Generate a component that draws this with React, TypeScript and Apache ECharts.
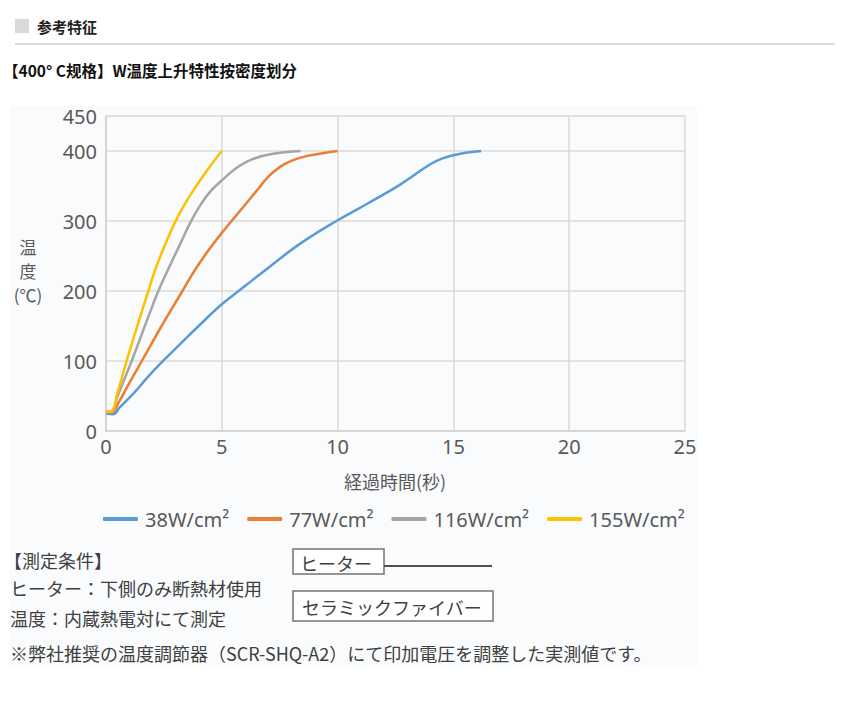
import React, { useEffect, useRef } from 'react';
import * as echarts from 'echarts';

// 凡例名と色
const seriesNames = ['38W/cm²', '77W/cm²', '116W/cm²', '155W/cm²'];
const seriesColors = ['#5b9bd5', '#ed7d31', '#a5a5a5', '#ffc000'];

// 経過時間(秒) / 温度(℃)
const time38 = [0, 0.3, 0.6, 1.2, 1.8, 2.4, 3.2, 4, 5, 6, 7, 8.4, 10, 11.3, 12.7, 14, 14.5, 15, 15.6, 16.2];
const temp38 = [25, 24, 34, 54, 77, 98, 124, 150, 181, 207, 233, 268, 301, 325, 352, 381, 389, 394, 398, 400];

const time77 = [0, 0.25, 0.5, 1, 1.55, 2.4, 3.3, 3.84, 4.4, 5, 5.8, 6.5, 7, 7.5, 8, 8.7, 10];
const temp77 = [27, 27, 38, 68, 100, 150, 200, 230, 257, 283, 315, 343, 363, 377, 386, 393, 400];

const time116 = [0, 0.25, 0.5, 1.11, 1.7, 2.26, 2.7, 3.2, 3.63, 4.1, 4.5, 5, 5.6, 6.3, 7.2, 8.4];
const temp116 = [27, 28, 50, 100, 152, 200, 232, 267, 297, 324, 342, 358, 375, 388, 396, 400];

const time155 = [0, 0.25, 0.5, 0.89, 1.35, 1.83, 2.12, 2.5, 2.98, 3.4, 3.9, 4.4, 5];
const temp155 = [27, 28, 55, 100, 150, 200, 230, 262, 298, 324, 350, 374, 400];

const xRange = [0, 25, 5]; // min, max, interval
const yRange = [0, 450, 100];

const headerText = '参考特征';
const titleText = '【400° C规格】W温度上升特性按密度划分';
const yNameLines = ['温', '度', '(℃)'];
const xName = '経過時間(秒)';
const noteLines = [
  '【測定条件】',
  'ヒーター：下側のみ断熱材使用',
  '温度：内蔵熱電対にて測定',
  '※弊社推奨の温度調節器（SCR-SHQ-A2）にて印加電圧を調整した実測値です。',
];
const boxLabels = ['ヒーター', 'セラミックファイバー'];

const times = [time38, time77, time116, time155];
const temps = [temp38, temp77, temp116, temp155];

const JP = '"Noto Sans CJK JP", "Noto Sans", sans-serif';
const SC = '"Noto Sans CJK SC", "Noto Sans", sans-serif';

const App: React.FC = () => {
  const chartRef: any = useRef(null);

  useEffect(() => {
    const chart = echarts.init(chartRef.current, null, { renderer: 'svg' });

    const noteY = [560, 588, 618, 653];
    const noteX = [4, 10, 10, 10];
    const yNameY = [246, 270, 294];

    const option: any = {
      animation: false,
      backgroundColor: '#ffffff',
      textStyle: { fontFamily: JP },
      grid: { left: 106, right: 158, top: 116, bottom: 280 },
      xAxis: {
        type: 'value',
        min: xRange[0],
        max: xRange[1],
        interval: xRange[2],
        axisLine: { lineStyle: { color: '#d6d0cc', width: 1.5 } },
        axisTick: { show: false },
        axisLabel: { color: '#595959', fontSize: 20, fontFamily: '"Noto Sans", sans-serif', margin: 5 },
        splitLine: { lineStyle: { color: '#ddd8d4', width: 1.5 } },
      },
      yAxis: {
        type: 'value',
        min: yRange[0],
        max: yRange[1],
        interval: yRange[2],
        axisLine: { show: true, lineStyle: { color: '#d6d0cc', width: 1.5 } },
        axisTick: { show: false },
        axisLabel: { color: '#595959', fontSize: 20, fontFamily: '"Noto Sans", sans-serif', margin: 9 },
        splitLine: { lineStyle: { color: '#ddd8d4', width: 1.5 } },
      },
      legend: {
        left: 103,
        top: 507,
        padding: 0,
        itemGap: 18,
        itemWidth: 35,
        itemHeight: 4,
        icon: 'roundRect',
        textStyle: { color: '#595959', fontSize: 20, fontFamily: '"Noto Sans", sans-serif', lineHeight: 24, padding: [0, 0, 0, 2] },
        data: seriesNames,
      },
      series: seriesNames.map((name, i) => ({
        name,
        type: 'line',
        smooth: 0.4,
        symbol: 'none',
        color: seriesColors[i],
        lineStyle: { width: 2.5, color: seriesColors[i] },
        data: times[i].map((t, j) => [t, temps[i][j]]),
      })),
      graphic: [
        { type: 'rect', z: -10, shape: { x: 10, y: 106, width: 687, height: 562 }, style: { fill: '#f9fbfd' } },
        { type: 'rect', shape: { x: 15, y: 19, width: 14, height: 14 }, style: { fill: '#d9d9d9' } },
        {
          type: 'text',
          style: { text: headerText, x: 37, y: 26, textVerticalAlign: 'middle', fill: '#222222', font: `bold 15px ${SC}` },
        },
        { type: 'line', shape: { x1: 15, y1: 44, x2: 835, y2: 44 }, style: { stroke: '#dcdcdc', lineWidth: 2 } },
        {
          type: 'text',
          style: { text: titleText, x: 3, y: 70, textVerticalAlign: 'middle', fill: '#111111', font: `bold 15.5px ${SC}` },
        },
        ...yNameLines.map((line, i) => ({
          type: 'text',
          style: {
            text: line, x: 28, y: yNameY[i], textAlign: 'center', textVerticalAlign: 'middle',
            fill: '#595959', font: `17px ${JP}`,
          },
        })),
        {
          type: 'text',
          style: { text: xName, x: 395, y: 481, textAlign: 'center', textVerticalAlign: 'middle', fill: '#595959', font: `18px ${JP}` },
        },
        ...noteLines.map((line, i) => ({
          type: 'text',
          style: { text: line, x: noteX[i], y: noteY[i], textVerticalAlign: 'middle', fill: '#404040', font: `18px ${JP}` },
        })),
        { type: 'rect', shape: { x: 293, y: 549, width: 91, height: 25 }, style: { fill: '#ffffff', stroke: '#7d716c', lineWidth: 1.5 } },
        { type: 'line', shape: { x1: 384, y1: 566, x2: 492, y2: 566 }, style: { stroke: '#5a4b45', lineWidth: 2 } },
        {
          type: 'text',
          style: { text: boxLabels[0], x: 300, y: 563, textVerticalAlign: 'middle', fill: '#404040', font: `18px ${JP}` },
        },
        { type: 'rect', shape: { x: 293, y: 591, width: 200, height: 30 }, style: { fill: '#ffffff', stroke: '#7d716c', lineWidth: 1.5 } },
        {
          type: 'text',
          style: { text: boxLabels[1], x: 302, y: 607, textVerticalAlign: 'middle', fill: '#404040', font: `18px ${JP}` },
        },
      ],
    };

    chart.setOption(option);
    return () => {
      chart.dispose();
    };
  }, []);

  return (
    <div
      ref={chartRef}
      style={{ position: 'fixed', left: 0, top: 0, width: 843, height: 711 }}
    ></div>
  );
};

export default App;
